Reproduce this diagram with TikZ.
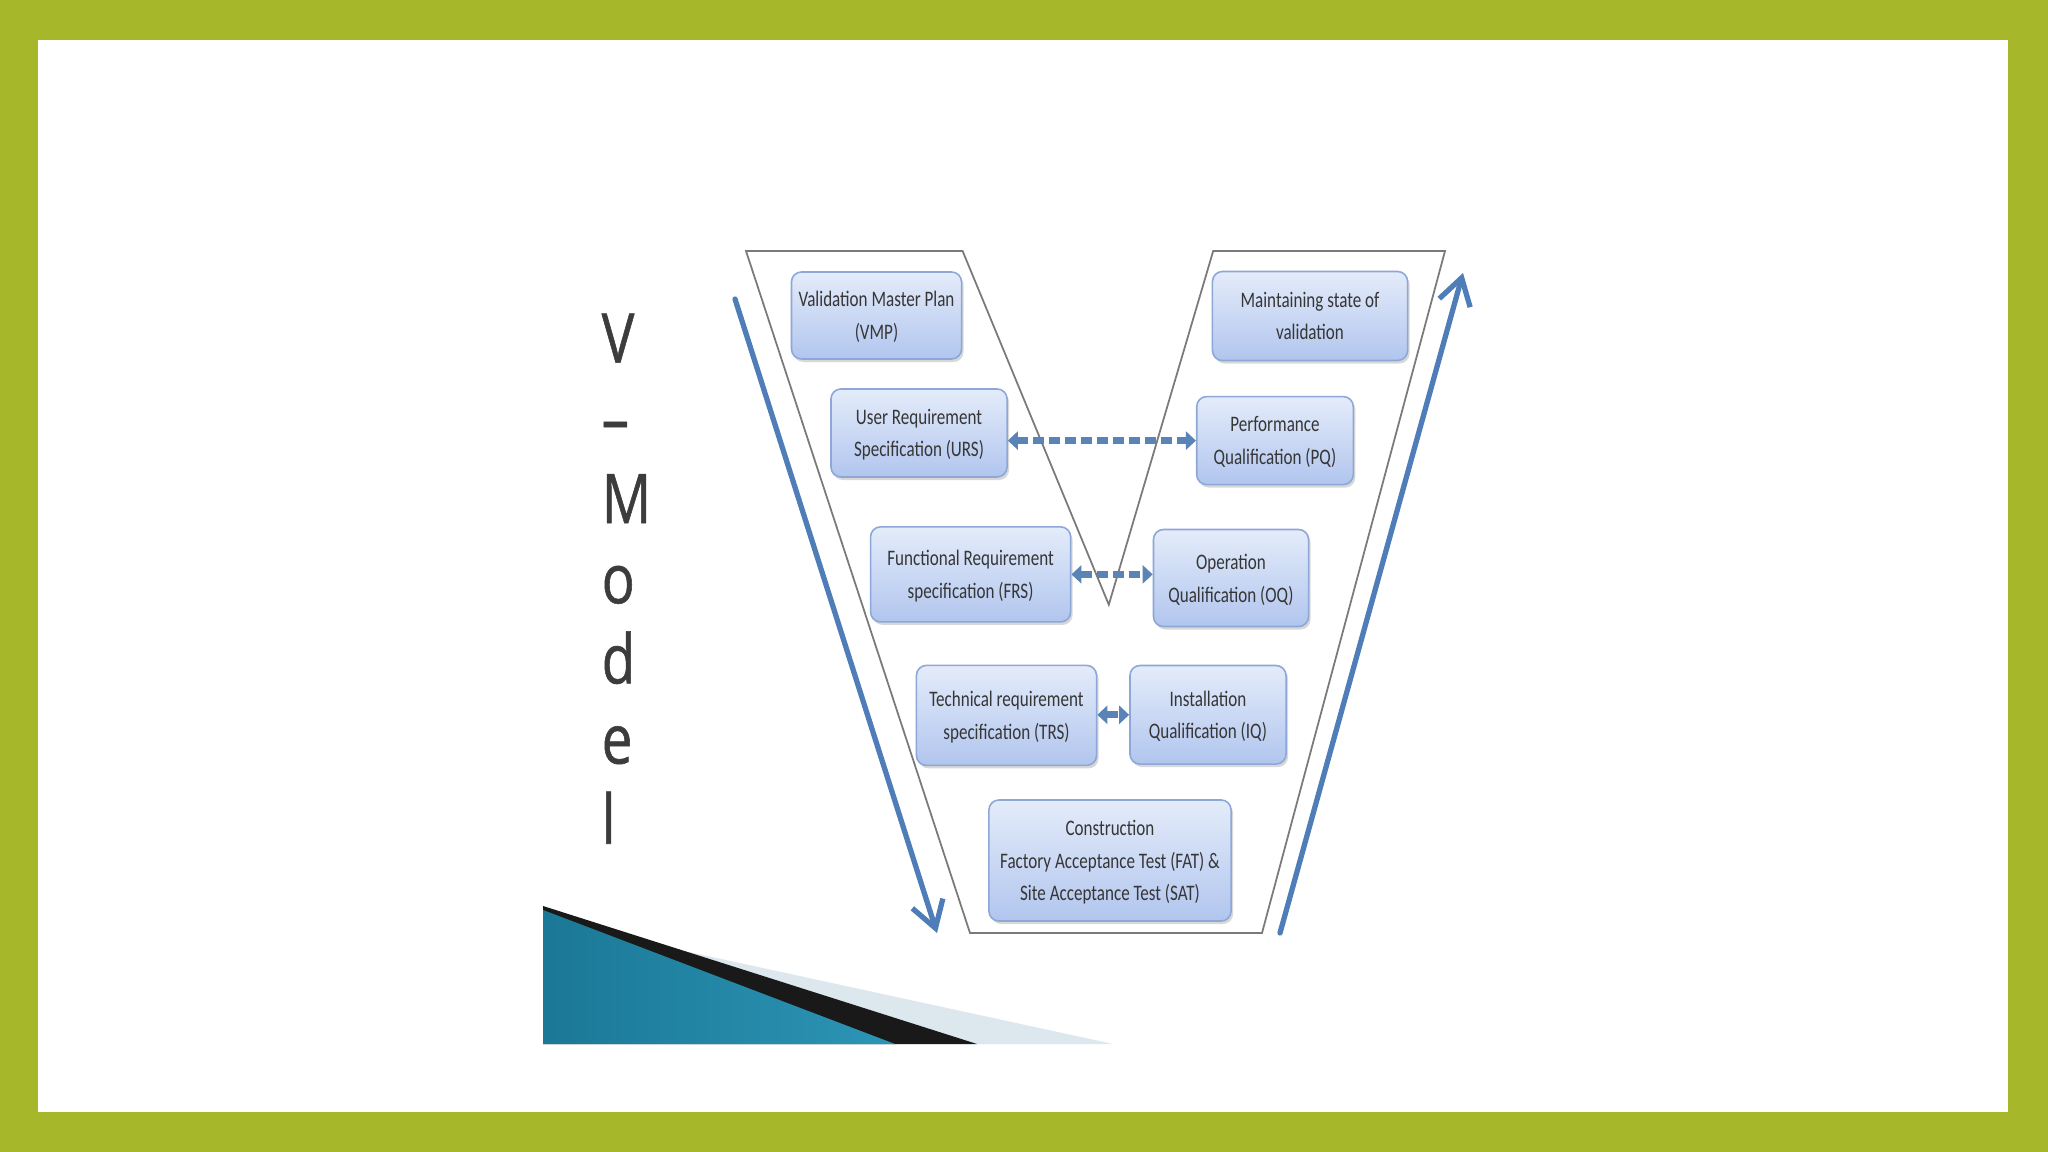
\documentclass[tikz,border=0pt]{standalone}
\usepackage{fontspec}
\setmainfont{Carlito}
\newfontfamily\boxfont[FakeStretch=0.77]{Carlito}
\newfontfamily\titlefont[FakeStretch=0.8,FakeBold=0.8]{Open Sans}
\usepackage{xcolor}
\usetikzlibrary{arrows.meta,shadows,positioning}
\definecolor{framegreen}{HTML}{A6B82A}
\definecolor{arrowblue}{HTML}{4E7DB8}
\definecolor{dashblue}{HTML}{5A83B6}
\definecolor{boxtop}{HTML}{E4ECFA}
\definecolor{boxbottom}{HTML}{B1C5EE}
\definecolor{boxline}{HTML}{8DA7D6}
\definecolor{textgray}{HTML}{363636}
\definecolor{titlegray}{HTML}{3C3C3C}
\definecolor{outlinegray}{HTML}{7A7A7A}
\definecolor{tealdark}{HTML}{1B7896}
\definecolor{teallight}{HTML}{55BCDC}
\definecolor{tealmid}{HTML}{2C95B6}
\definecolor{slivergray}{HTML}{DCE7EE}

\tikzset{
  vbox/.style={draw=boxline, line width=0.45pt, rounded corners=0.1cm,
    top color=boxtop, bottom color=boxbottom,
    drop shadow={opacity=0.3, shadow xshift=0.02cm, shadow yshift=-0.03cm},
    align=center, inner sep=0pt, text=textgray, text depth=0pt,
    font=\boxfont\fontsize{6.3}{9.3}\selectfont},
  dasharrow/.style={dashblue, line width=2.1pt, dash pattern=on 0.11cm off 0.05cm,
    {Triangle[length=0.1cm,width=0.18cm]}-{Triangle[length=0.1cm,width=0.18cm]}},
  bigarrow/.style={arrowblue, line width=1.5pt, line cap=round,
    -{Straight Barb[length=0.26cm,width=0.32cm]}}
}

\begin{document}
\begin{tikzpicture}[x=0.01cm,y=-0.01cm]
  \useasboundingbox (0,0) rectangle (2048,1152);
  % slide frame
  \fill[framegreen] (0,0) rectangle (2048,1152);
  \fill[white] (38,40) rectangle (2008,1112);

  % corner decoration
  \fill[slivergray] (689,952) -- (1113,1044) -- (689,1044) -- cycle;
  \fill[black!90] (543,906) -- (977,1044) -- (543,1044) -- cycle;
  \shade[left color=tealdark, middle color=teallight, right color=tealmid]
    (543,910) -- (895,1044) -- (543,1044) -- cycle;

  % title
  \node[font=\titlefont\fontsize{19.5}{22.8}\selectfont, text=titlegray,
    align=left, inner sep=0pt, anchor=north west] (title) at (601,313)
    {V\\–\\M\\o\\d\\e\\l};

  % V outline
  \draw[outlinegray, line width=0.5pt, line join=miter]
    (746,251) -- (962.6,251) -- (1108.8,604.7) -- (1213.2,251) -- (1445,251)
    -- (1262,933) -- (970,933) -- cycle;

  % stages
  \node[vbox, minimum width=1.70cm, minimum height=0.87cm] (vmp) at (876.5,315.5)
    {Validation Master Plan\\(VMP)};
  \node[vbox, minimum width=1.95cm, minimum height=0.89cm] (msv) at (1310,316)
    {Maintaining state of\\validation};
  \node[vbox, minimum width=1.76cm, minimum height=0.88cm] (urs) at (919,433)
    {User Requirement\\Specification (URS)};
  \node[vbox, minimum width=1.565cm, minimum height=0.88cm] (pq) at (1275,440.6)
    {Performance\\Qualification (PQ)};
  \node[vbox, minimum width=2.00cm, minimum height=0.95cm] (frs) at (970.6,574.4)
    {Functional Requirement\\specification (FRS)};
  \node[vbox, minimum width=1.55cm, minimum height=0.97cm] (oq) at (1231,578)
    {Operation\\Qualification (OQ)};
  \node[vbox, minimum width=1.80cm, minimum height=1.00cm] (trs) at (1006.5,715.4)
    {Technical requirement\\specification (TRS)};
  \node[vbox, minimum width=1.56cm, minimum height=0.985cm] (iq) at (1208,714.8)
    {Installation\\Qualification (IQ)};
  \node[vbox, minimum width=2.42cm, minimum height=1.21cm] (con) at (1110,860.5)
    {Construction\\Factory Acceptance Test (FAT) \&\\Site Acceptance Test (SAT)};

  % links between the two arms
  \draw[dasharrow] (urs.east |- pq.west) -- (pq.west);
  \draw[dasharrow] (frs.east) -- (frs.east -| oq.west);
  \draw[dasharrow] (trs.east |- iq.west) -- (iq.west);

  % direction arrows
  \coordinate (down0) at (735,299);
  \coordinate (down1) at (937,933);
  \coordinate (up0) at (1280,933);
  \coordinate (up1) at (1463,273);
  \draw[bigarrow] (down0) -- (down1);
  \draw[bigarrow] (up0) -- (up1);
\end{tikzpicture}
\end{document}
